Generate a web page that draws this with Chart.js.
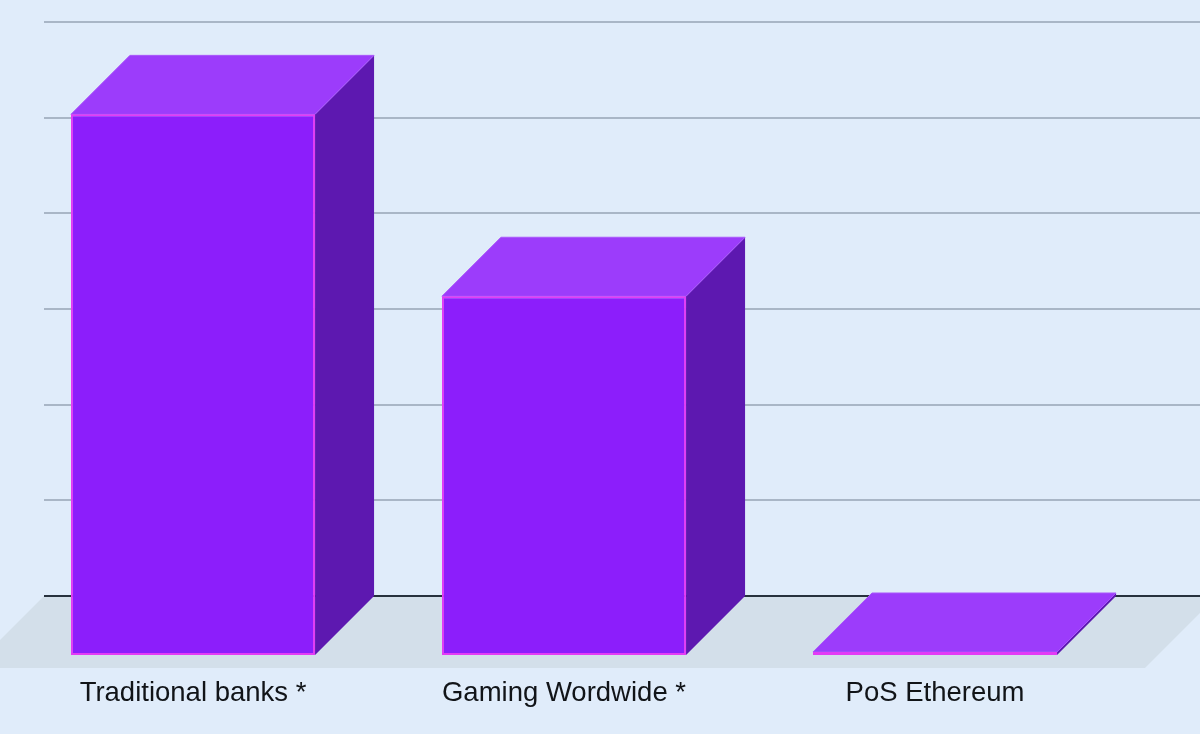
<!DOCTYPE html>
<html>
<head>
<meta charset="utf-8">
<style>
  html, body { margin: 0; padding: 0; background: #e0ecfa; }
  #wrap { width: 1200px; height: 734px; }
</style>
<script src="https://cdn.jsdelivr.net/npm/chart.js@4.4.0/dist/chart.umd.min.js"></script>
</head>
<body>
<div id="wrap"><canvas id="grafico"></canvas></div>
<script>
// dados do grafico (TWh/ano)
const categorias = ["Traditional banks *", "Gaming Wordwide *", "PoS Ethereum"];
const consumo = [263.72, 175, 0.0026];
const eixoMax = 280;
const eixoPasso = 280 / 6;

// profundidade do efeito 3D
const DX = 59;
const DY = 59;

// Plugin que desenha fundo, parede com grade e piso
const cenario3d = {
  id: "cenario3d",
  beforeDraw(chart) {
    const ctx = chart.ctx;
    const y = chart.scales.y;
    const fundoBase = y.getPixelForValue(0) - DY;

    ctx.save();
    ctx.fillStyle = "#e0ecfa";
    ctx.fillRect(0, 0, chart.width, chart.height);

    // piso
    const wallLeft = 44;
    const wallRight = chart.width + 17;
    const pisoFrente = fundoBase + 72;
    ctx.fillStyle = "#d3dfea";
    ctx.beginPath();
    ctx.moveTo(wallLeft, fundoBase);
    ctx.lineTo(wallRight, fundoBase);
    ctx.lineTo(wallRight - 72, pisoFrente);
    ctx.lineTo(wallLeft - 72, pisoFrente);
    ctx.closePath();
    ctx.fill();

    // linhas de grade na parede do fundo
    y.ticks.forEach((t) => {
      const py = Math.round(y.getPixelForValue(t.value) - DY);
      ctx.strokeStyle = t.value === 0 ? "#27313d" : "#a9b6c6";
      ctx.lineWidth = 2;
      ctx.beginPath();
      ctx.moveTo(wallLeft, py);
      ctx.lineTo(chart.width, py);
      ctx.stroke();
    });
    ctx.restore();
  },
  // faces de cima e do lado das barras
  beforeDatasetsDraw(chart) {
    const ctx = chart.ctx;
    const meta = chart.getDatasetMeta(0);
    ctx.save();
    meta.data.forEach((bar) => {
      const { x, y, base, width } = bar.getProps(["x", "y", "base", "width"], true);
      const l = x - width / 2;
      const r = x + width / 2;

      // lado
      ctx.fillStyle = "#5d18b0";
      ctx.beginPath();
      ctx.moveTo(r, y);
      ctx.lineTo(r + DX, y - DY);
      ctx.lineTo(r + DX, base - DY);
      ctx.lineTo(r, base);
      ctx.closePath();
      ctx.fill();

      // topo
      ctx.fillStyle = "#9c3cfb";
      ctx.strokeStyle = "#a957fb";
      ctx.lineWidth = 1;
      ctx.beginPath();
      ctx.moveTo(l, y);
      ctx.lineTo(l + DX, y - DY);
      ctx.lineTo(r + DX, y - DY);
      ctx.lineTo(r, y);
      ctx.closePath();
      ctx.fill();
      ctx.stroke();
    });
    ctx.restore();
  }
};

new Chart(document.getElementById("grafico"), {
  type: "bar",
  data: {
    labels: categorias,
    datasets: [{
      data: consumo,
      backgroundColor: "#8c1efb",
      borderColor: "#e33bf5",
      borderWidth: 2,
      borderSkipped: false,
      minBarLength: 3,
      barPercentage: 0.658,
      categoryPercentage: 1
    }]
  },
  options: {
    responsive: true,
    maintainAspectRatio: false,
    animation: false,
    layout: { padding: { left: 7.5, right: 79.5, top: 81, bottom: 2 } },
    plugins: {
      legend: { display: false },
      tooltip: { enabled: false }
    },
    scales: {
      x: {
        grid: { display: false, drawTicks: false },
        border: { display: false },
        ticks: {
          padding: 22,
          color: "#111418",
          font: { family: "'Liberation Sans', Arial, sans-serif", size: 27.5 }
        }
      },
      y: {
        display: false,
        min: 0,
        max: eixoMax,
        ticks: { stepSize: eixoPasso }
      }
    }
  },
  plugins: [cenario3d]
});
</script>
</body>
</html>
